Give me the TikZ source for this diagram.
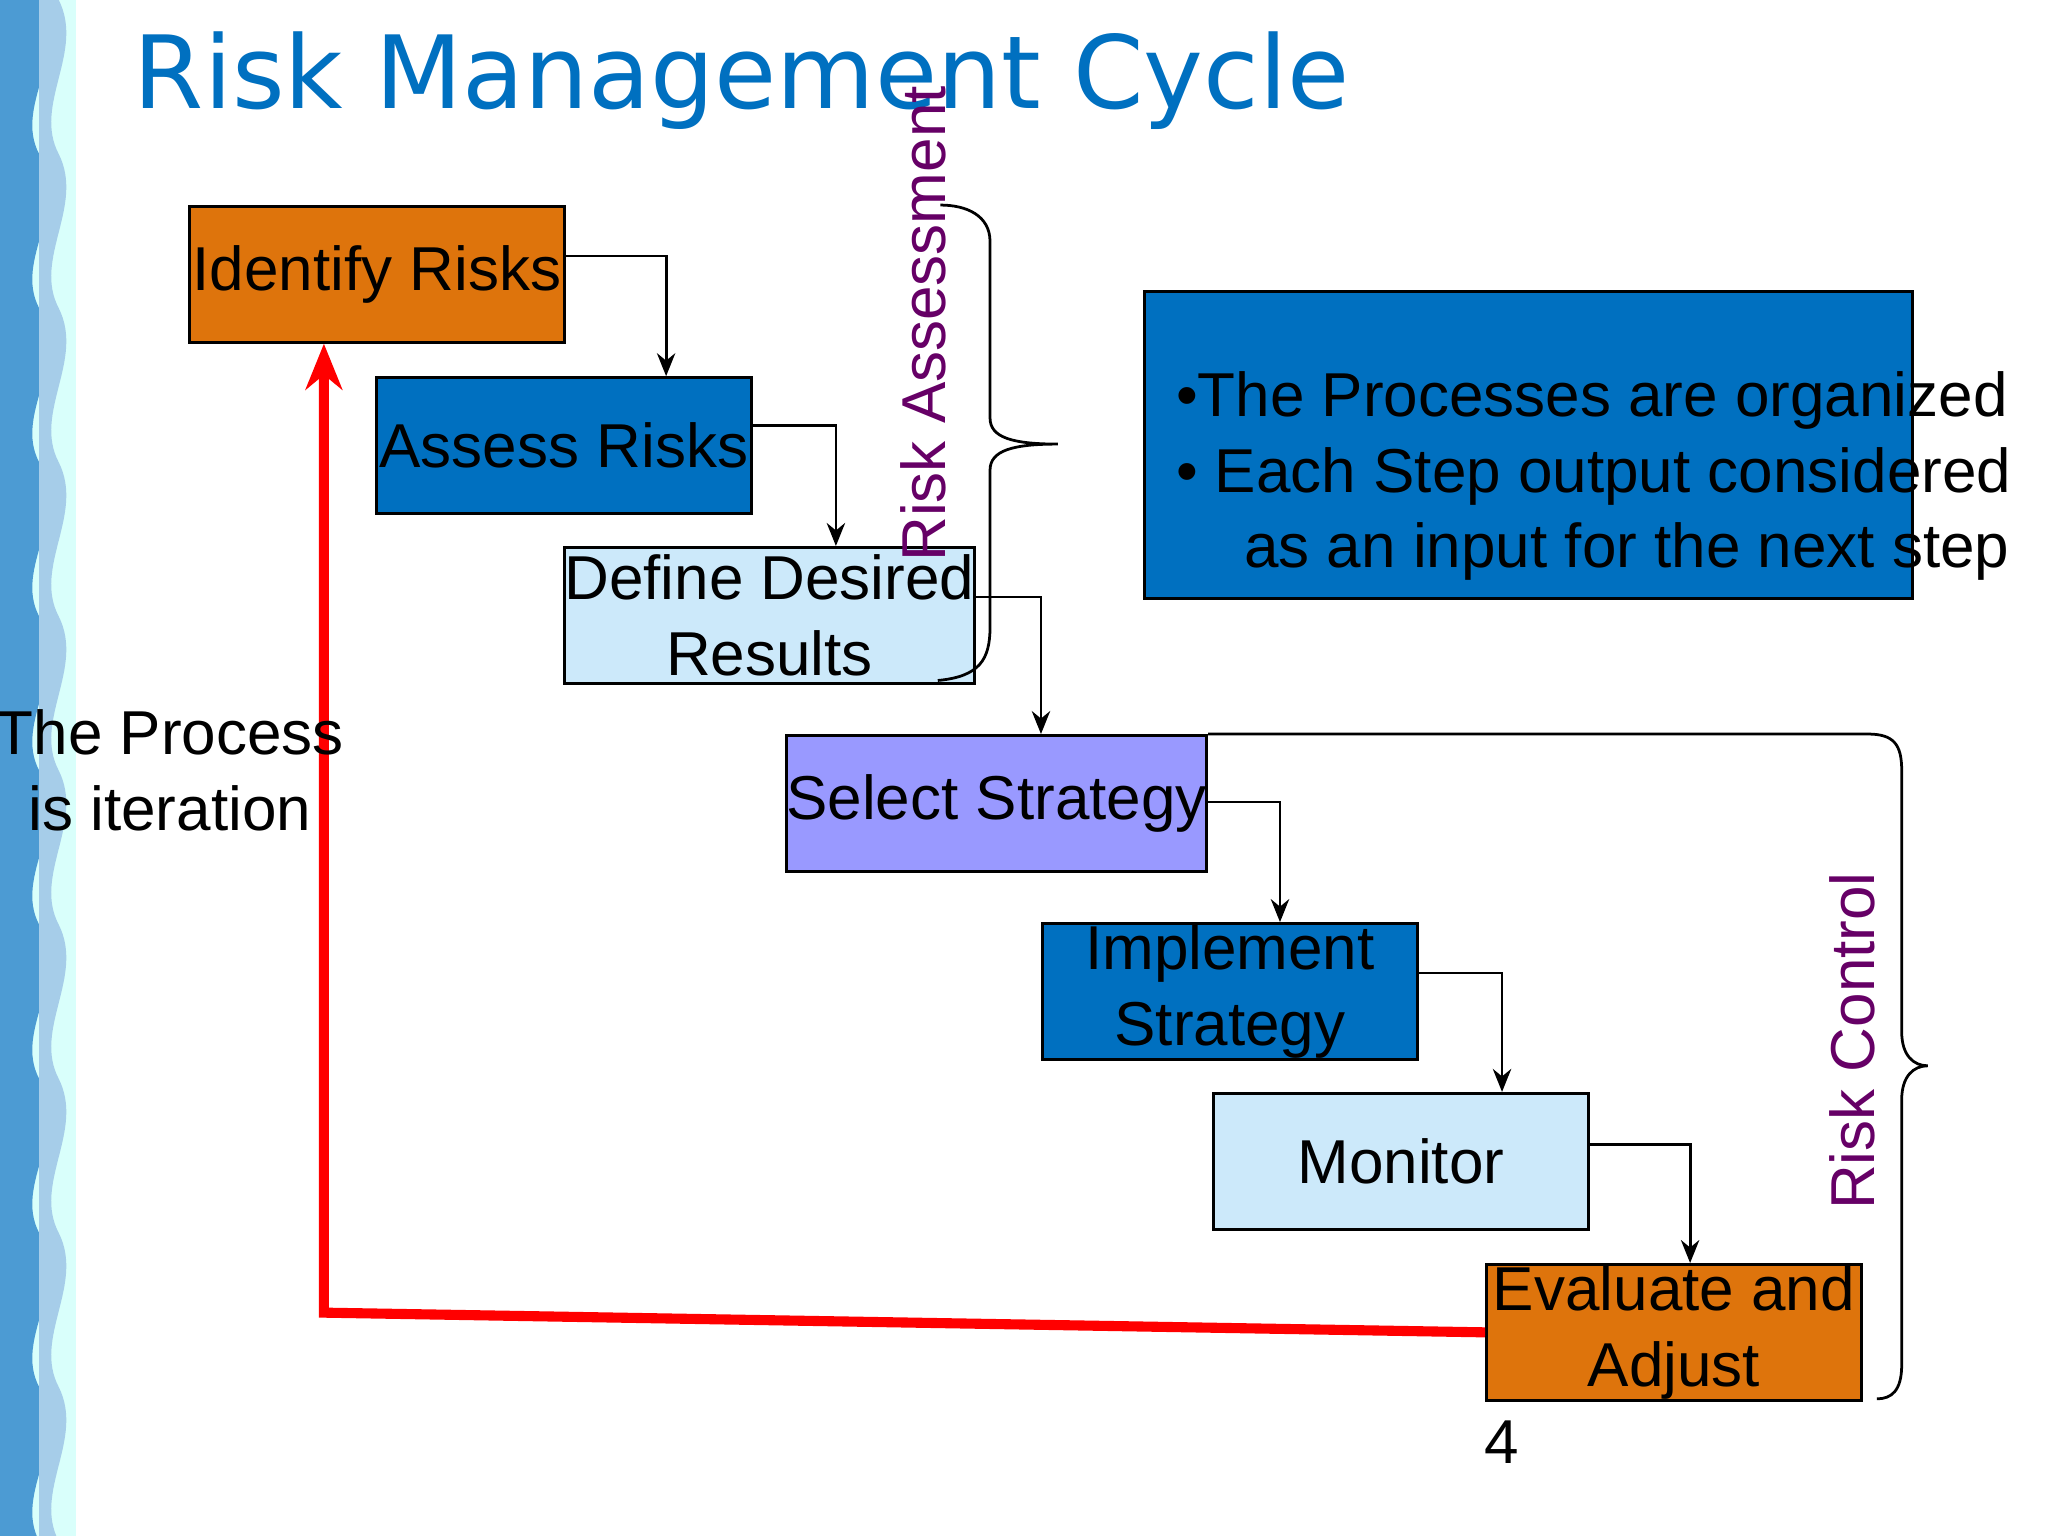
\documentclass[tikz,border=0pt]{standalone}
\usepackage{fontspec}
\setmainfont{Liberation Sans}
\newfontfamily\titlefont{DejaVu Sans}
\usetikzlibrary{arrows.meta}
\definecolor{org}{HTML}{DE740C}
\definecolor{blu}{HTML}{0070C0}
\definecolor{lbl}{HTML}{CCE9FA}
\definecolor{vio}{HTML}{9999FF}
\definecolor{pur}{HTML}{660066}
\begin{document}
\begin{tikzpicture}[x=0.01cm,y=-0.01cm,
  box/.style={draw=black,line width=0.6pt,minimum width=2.87cm,minimum height=1.04cm,anchor=north west,align=center,font=\fontsize{13.5pt}{16.5pt}\selectfont,inner sep=0pt},
  con/.style={draw=black,line width=0.6pt,-{Stealth[length=5pt,width=4pt]}},
  brace/.style={draw=black,line width=0.6pt}]
\useasboundingbox (0,0) rectangle (1568,1176);
\fill[white] (0,0) rectangle (1568,1176);
% left decorative strip
\fill[green!10!cyan!15] (0,0) rectangle (58,1176);
\fill[blu!70] (0,0) -- (30,0)
  \foreach \k in {0,...,9}{ .. controls (55,{\k*118+40}) and (10,{\k*118+80}) .. (30,{(\k+1)*118}) } -- (0,1176) -- cycle;
\fill[blu!35] (0,0) -- (45,0)
  \foreach \k in {0,...,9}{ .. controls (65,{\k*118+40}) and (25,{\k*118+80}) .. (45,{(\k+1)*118}) } -- (30,1176) -- (30,0) -- cycle;
\node[anchor=west,text=blu,font=\titlefont\fontsize{22pt}{26pt}\selectfont] (title) at (90,62) {Risk Management Cycle};
\node[box,fill=org] (id) at (144,157) {Identify Risks};
\node[box,fill=blu] (as) at (287,288) {Assess Risks};
\node[box,fill=lbl] (de) at (431,418) {Define Desired\\Results};
\node[box,fill=vio] (se) at (601,562) {Select Strategy};
\node[box,fill=blu] (im) at (797,706) {Implement\\Strategy};
\node[box,fill=lbl] (mo) at (928,836) {Monitor};
\node[box,fill=org] (ev) at (1137,967) {Evaluate and\\Adjust};
\node[draw=black,line width=0.6pt,fill=blu,anchor=north west,minimum width=5.88cm,minimum height=2.35cm,inner sep=0pt] (info) at (875,222) {};
\node[anchor=north west,align=left,font=\fontsize{13.5pt}{16.5pt}\selectfont] (infot) at (888,272) {•The Processes are organized\\• Each Step output considered\\\hspace{1.1em}as an input for the next step};
\coordinate (c1) at (510,196); \coordinate (c2) at (640,326); \coordinate (c3) at (797,457);
\coordinate (c4) at (980,614); \coordinate (c5) at (1150,745); \coordinate (c6) at (1294,876);
\draw[con] (id.east|-c1) -- (c1) -- (c1|-as.north);
\draw[con] (as.east|-c2) -- (c2) -- (c2|-de.north);
\draw[con] (de.east|-c3) -- (c3) -- (c3|-se.north);
\draw[con] (se.east|-c4) -- (c4) -- (c4|-im.north);
\draw[con] (im.east|-c5) -- (c5) -- (c5|-mo.north);
\draw[con] (mo.east|-c6) -- (c6) -- (c6|-ev.north);
\coordinate (r1) at (248,1005);
\draw[red,line width=2.2pt,-{Stealth[length=10pt,width=8pt]}] (ev.west) -- (r1) -- (r1|-id.south);
% braces
\draw[brace] (718,521) .. controls (750,518) and (758,505) .. (758,480) -- (758,360) .. controls (758,345) and (775,340) .. (810,340) .. controls (775,340) and (758,335) .. (758,320) -- (758,185) .. controls (758,165) and (740,157) .. (720,157);
\draw[brace] (se.north east) -- (1430,562) .. controls (1450,562) and (1456,570) .. (1456,590) -- (1456,790) .. controls (1456,808) and (1465,816) .. (1476,816) .. controls (1465,816) and (1456,824) .. (1456,842) -- (1456,1045) .. controls (1456,1065) and (1448,1071) .. (1437,1071);
\node[rotate=90,text=pur,font=\fontsize{13.5pt}{16pt}\selectfont] (ra) at (707,248) {Risk Assessment};
\node[rotate=90,text=pur,font=\fontsize{13.5pt}{16pt}\selectfont] (rc) at (1418,797) {Risk Control};
\node[align=center,font=\fontsize{13.5pt}{16.5pt}\selectfont] (it) at (130,590) {The Process\\is iteration};
\node[font=\fontsize{13.5pt}{16pt}\selectfont] (pg) at (1150,1104) {4};
\end{tikzpicture}
\end{document}
